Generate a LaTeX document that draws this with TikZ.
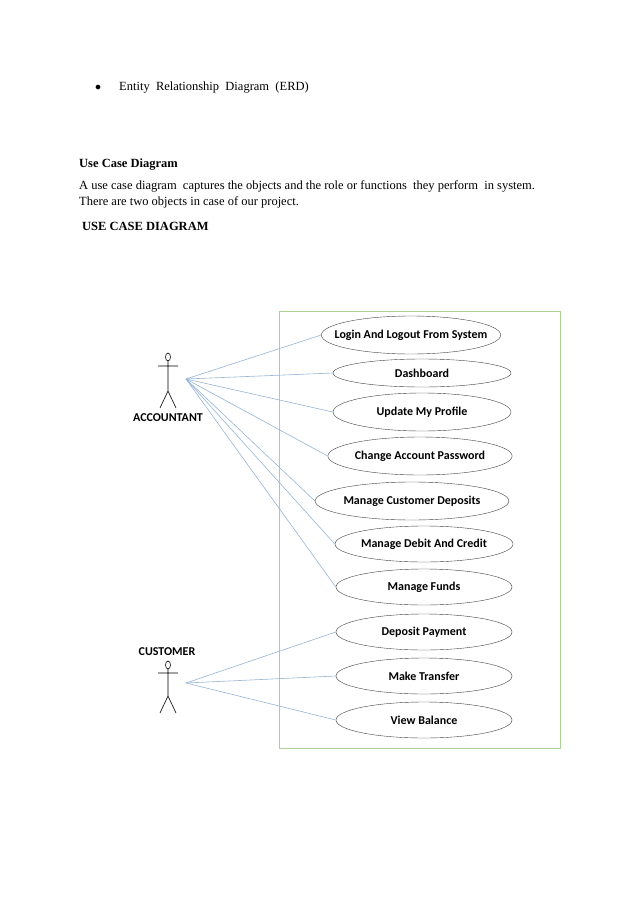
\documentclass[tikz,border=0pt]{standalone}
\usepackage{fontspec}
\setmainfont{Liberation Serif}
\newfontfamily\carlitofont{Carlito}
\usetikzlibrary{shapes.geometric}
\definecolor{lnkc}{RGB}{150,180,212}
\definecolor{boxc}{RGB}{170,210,150}
\begin{document}
\begin{tikzpicture}[x=1pt,y=-1pt,
 uc/.style={draw=black!75,ellipse,minimum width=176pt,minimum height=36pt,inner sep=0pt,font=\carlitofont\bfseries\fontsize{12}{13}\selectfont},
 lnk/.style={draw=lnkc,line width=0.6pt},
 txt/.style={anchor=base west,inner sep=0pt,font=\fontsize{12.5}{14}\selectfont}]
\useasboundingbox (0,0) rectangle (638,902);
\node[txt] (b) at (95,90) {$\bullet$};
\node[txt] (t1) at (119,90) {Entity\ \ Relationship\ \ Diagram\ \ (ERD)};
\node[txt,font=\bfseries\fontsize{12.5}{14}\selectfont] (t2) at (79,167) {Use Case Diagram};
\node[txt] (t3) at (79,189) {A use case diagram\ \ captures the objects and the role or functions\ \ they perform\ \ in system.};
\node[txt] (t4) at (79,205) {There are two objects in case of our project.};
\node[txt,font=\bfseries\fontsize{12.5}{14}\selectfont] (t5) at (82,230) {USE CASE DIAGRAM};
\draw[draw=boxc,line width=0.8pt] (279,311) rectangle (560,748);
\node[uc,minimum width=178pt,minimum height=38pt,inner xsep=-13pt] (u1) at (411,335) {Login And Logout From System};
\node[uc,minimum width=178pt,minimum height=28pt] (u2) at (422,373) {Dashboard};
\node[uc,minimum width=178pt,minimum height=38pt] (u3) at (422,412) {Update My Profile};
\node[uc,minimum width=178pt,minimum height=38pt] (u4) at (420,456) {Change Account Password};
\node[uc,minimum width=180pt,minimum height=38pt] (u5) at (412,501) {Manage Customer Deposits};
\node[uc] (u6) at (424,544) {Manage Debit And Credit};
\node[uc] (u7) at (424,587) {Manage Funds};
\node[uc] (u8) at (424,632) {Deposit Payment};
\node[uc] (u9) at (424,676) {Make Transfer};
\node[uc] (u10) at (424,720) {View Balance};
% actors
\begin{scope}[line width=0.6pt]
\draw (168,357) ellipse (2.5 and 4);
\draw (168,361) -- (168,391) (158,366) -- (178,366) (168,391) -- (160,408) (168,391) -- (176,408);
\draw (168,665) ellipse (2.5 and 4);
\draw (168,669) -- (168,696) (158,673) -- (178,673) (168,696) -- (160,713) (168,696) -- (176,713);
\end{scope}
\node[font=\carlitofont\bfseries\fontsize{12}{13}\selectfont] (acc) at (168,418) {ACCOUNTANT};
\node[font=\carlitofont\bfseries\fontsize{12}{13}\selectfont] (cus) at (167,652) {CUSTOMER};
\coordinate (a) at (186,379);
\coordinate (c) at (186,683);
\foreach \u in {u1,u2,u3,u4,u5,u6,u7} \draw[lnk] (a) -- (\u.west);
\foreach \u in {u8,u9,u10} \draw[lnk] (c) -- (\u.west);
\end{tikzpicture}
\end{document}
